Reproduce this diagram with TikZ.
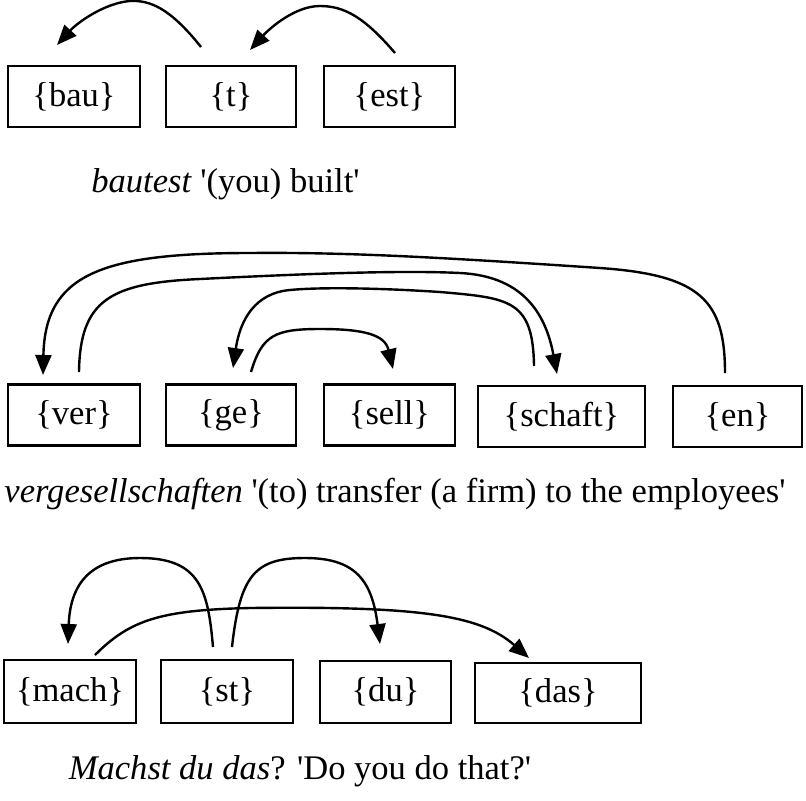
\documentclass[tikz,border=0pt]{standalone}
\usepackage{fontspec}
\setmainfont{Liberation Serif}
\usetikzlibrary{arrows.meta}
\tikzset{
  morph/.style={draw, line width=2pt, inner sep=0pt, minimum height=61*0.75pt, minimum width=#1*0.75pt, font=\fontsize{25.9}{30}\selectfont},
  morph/.default=131,
  captext/.style={anchor=base, inner sep=0pt, font=\fontsize{25.9}{30}\selectfont},
  arc/.style={line width=1.8pt, -{Triangle[length=15pt,width=12pt]}}
}
\begin{document}
\begin{tikzpicture}[x=0.75pt,y=-0.75pt]
\useasboundingbox (0,0) rectangle (806,800);
% top row
\node[morph=132] (bau) at (74,96.5) {\{bau\}};
\node[morph=130] (t) at (231,96.5) {\{t\}};
\node[morph=131] (est) at (389.5,96.5) {\{est\}};
\node[captext] (c1) at (225.5,192) {\textit{bautest} \textquotesingle(you) built\textquotesingle};
\coordinate (tS) at (201,47);
\coordinate (bauE) at (57,45);
\coordinate (estS) at (395,53);
\coordinate (tE) at (250,50);
\draw[arc] (tS) .. controls (170,8) and (150,0) .. (130,1) .. controls (105,3) and (78,22) .. (bauE);
\draw[arc] (estS) .. controls (365,18) and (345,6) .. (320,6) .. controls (295,6) and (270,28) .. (tE);
% middle row
\node[morph=132] (ver) at (74,415) {\{ver\}};
\node[morph=130] (ge) at (231,415) {\{ge\}};
\node[morph=131] (sell) at (389.5,415) {\{sell\}};
\node[morph=167] (schaft) at (561.5,416.5) {\{schaft\}};
\node[morph=129] (en) at (737.5,416.5) {\{en\}};
\node[captext] (c2) at (395,502) {\textit{vergesellschaften} \textquotesingle(to) transfer (a firm) to the employees\textquotesingle};
\coordinate (enS) at (725,373);
\coordinate (verE) at (43,375);
\coordinate (verS) at (79,372);
\coordinate (schaftE) at (557,374);
\coordinate (schaftS) at (534,366);
\coordinate (geE) at (233,368);
\coordinate (geS) at (251,372);
\coordinate (sellE) at (393,369);
\draw[arc] (enS) .. controls (725,300) and (700,275) .. (600,268) .. controls (450,258) and (350,252) .. (250,253) .. controls (100,253) and (45,275) .. (verE);
\draw[arc] (verS) .. controls (80,300) and (110,283) .. (200,279) .. controls (300,274) and (400,270) .. (460,273) .. controls (520,276) and (545,310) .. (schaftE);
\draw[arc] (schaftS) .. controls (533,300) and (510,298) .. (440,292) .. controls (380,288) and (320,287) .. (290,290) .. controls (255,293) and (240,320) .. (geE);
\draw[arc] (geS) .. controls (262,335) and (275,329) .. (320,329) .. controls (365,329) and (385,335) .. (sellE);
% bottom row
\node[morph=132, minimum height=63*0.75pt] (mach) at (70,691.5) {\{mach\}};
\node[morph=132, minimum height=63*0.75pt] (st) at (227,691.5) {\{st\}};
\node[morph=131, minimum height=62*0.75pt] (du) at (385.5,692) {\{du\}};
\node[morph=166, minimum height=60*0.75pt] (das) at (558,693) {\{das\}};
\node[captext] (c3) at (300,779) {\textit{Machst du das}? \textquotesingle Do you do that?\textquotesingle};
\coordinate (stS1) at (213,647);
\coordinate (machE) at (68,644);
\coordinate (stS2) at (232,647);
\coordinate (duE) at (380,644);
\coordinate (machS) at (95,655);
\coordinate (dasE) at (529,658);
\draw[arc] (stS1) .. controls (208,590) and (200,558) .. (140,558) .. controls (85,558) and (70,590) .. (machE);
\draw[arc] (stS2) .. controls (240,575) and (255,558) .. (305,558) .. controls (355,558) and (372,580) .. (duE);
\draw[arc] (machS) .. controls (130,620) and (160,610) .. (250,608) .. controls (420,606) and (480,615) .. (dasE);
\end{tikzpicture}
\end{document}
